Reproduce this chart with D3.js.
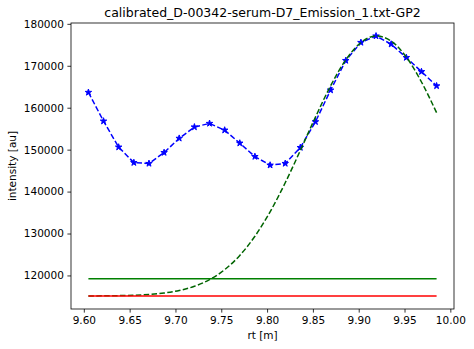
<!DOCTYPE html>
<html lang="en">
<head>
<meta charset="UTF-8">
<title>calibrated_D-00342-serum-D7_Emission_1.txt-GP2</title>
<script src="https://cdn.jsdelivr.net/npm/d3@7"></script>
<style>
  body { margin: 0; background: #fff; }
  svg { display: block; font-family: "DejaVu Sans", sans-serif; }
</style>
</head>
<body>
<svg id="chart" width="474" height="349"></svg>
<script>
// retention time of each measured point [m]
var rt = [9.6050, 9.6215, 9.6380, 9.6546, 9.6711, 9.6876, 9.7041, 9.7207,
          9.7372, 9.7537, 9.7702, 9.7867, 9.8033, 9.8198, 9.8363, 9.8528,
          9.8693, 9.8859, 9.9024, 9.9189, 9.9354, 9.9520, 9.9685, 9.9850];
// measured intensity (blue stars)
var intensity = [163650, 156800, 150600, 146900, 146700, 149300, 152700, 155400,
                 156250, 154650, 151550, 148350, 146300, 146700, 150500, 156650,
                 164200, 171250, 175550, 177100, 175150, 171950, 168600, 165200];
// fitted peak (green dashed)
var fit = [115120, 115140, 115190, 115280, 115470, 115810, 116410, 117410,
           119000, 121380, 124770, 129340, 135170, 142100, 149810, 157760,
           165210, 171410, 175530, 177100, 175900, 172060, 166130, 158800];
var baseline = 115100;   // red
var threshold = 119200;  // green solid
var xTicks = [9.60, 9.65, 9.70, 9.75, 9.80, 9.85, 9.90, 9.95, 10.00];
var yTicks = [120000, 130000, 140000, 150000, 160000, 170000, 180000];

var W = 474, H = 349;
var m = {left: 71, right: 20, top: 23, bottom: 40};

var svg = d3.select("#chart");

// matplotlib style 5% margins
var xlo = d3.min(rt), xhi = d3.max(rt);
var xpad = (xhi - xlo) * 0.05;
var allY = intensity.concat(fit, [baseline, threshold]);
var ylo = d3.min(allY), yhi = d3.max(allY);
var ypad = (yhi - ylo) * 0.05;

var x = d3.scaleLinear().domain([xlo - xpad, xhi + xpad]).range([m.left, W - m.right]);
var y = d3.scaleLinear().domain([ylo - ypad, yhi + ypad]).range([H - m.bottom, m.top]);

var g = svg.append("g");

var line = d3.line()
  .x(function(d) { return x(d[0]); })
  .y(function(d) { return y(d[1]); });
var smooth = d3.line()
  .x(function(d) { return x(d[0]); })
  .y(function(d) { return y(d[1]); })
  .curve(d3.curveMonotoneX);

// measured data
g.append("path")
  .datum(d3.zip(rt, intensity))
  .attr("d", line)
  .attr("fill", "none")
  .attr("stroke", "#0000ff")
  .attr("stroke-width", 1.5)
  .attr("stroke-dasharray", "5.5,2.4");

g.selectAll(".star")
  .data(d3.zip(rt, intensity))
  .enter()
  .append("path")
  .attr("class", "star")
  .attr("transform", function(d) { return "translate(" + x(d[0]) + "," + y(d[1]) + ")"; })
  .attr("d", d3.symbol().type(d3.symbolStar).size(13))
  .attr("fill", "#0000ff")
  .attr("stroke", "#0000ff")
  .attr("stroke-width", 1);

// fitted curve
g.append("path")
  .datum(d3.zip(rt, fit))
  .attr("d", smooth)
  .attr("fill", "none")
  .attr("stroke", "#006400")
  .attr("stroke-width", 1.5)
  .attr("stroke-dasharray", "5.5,2.4");

// horizontal levels
g.append("path")
  .datum([[xlo, threshold], [xhi, threshold]])
  .attr("d", line)
  .attr("stroke", "#008000")
  .attr("stroke-width", 1.5);

g.append("path")
  .datum([[xlo, baseline], [xhi, baseline]])
  .attr("d", line)
  .attr("stroke", "#ff0000")
  .attr("stroke-width", 1.5);

// axes
var xAxis = d3.axisBottom(x).tickValues(xTicks).tickFormat(d3.format(".2f")).tickSizeOuter(0).tickSize(3.6).tickPadding(3.5);
var yAxis = d3.axisLeft(y).tickValues(yTicks).tickFormat(d3.format("d")).tickSizeOuter(0).tickSize(3.6).tickPadding(3.5);

svg.append("g")
  .attr("transform", "translate(0," + (H - m.bottom) + ")")
  .call(xAxis);
svg.append("g")
  .attr("transform", "translate(" + m.left + ",0)")
  .call(yAxis);

svg.selectAll(".tick text").attr("font-size", 10.5).attr("fill", "#000").attr("font-family", "DejaVu Sans");
svg.selectAll(".tick line").attr("stroke", "#000").attr("stroke-width", 0.8);
svg.selectAll(".domain").remove();

// frame
svg.append("rect")
  .attr("x", m.left).attr("y", m.top)
  .attr("width", W - m.left - m.right)
  .attr("height", H - m.top - m.bottom)
  .attr("fill", "none")
  .attr("stroke", "#000")
  .attr("stroke-width", 0.8);

// labels
svg.append("text")
  .attr("x", (m.left + W - m.right) / 2)
  .attr("y", 17)
  .attr("text-anchor", "middle")
  .attr("font-size", 12.5)
  .text("calibrated_D-00342-serum-D7_Emission_1.txt-GP2");

svg.append("text")
  .attr("x", (m.left + W - m.right) / 2)
  .attr("y", 339)
  .attr("text-anchor", "middle")
  .attr("font-size", 10.5)
  .text("rt [m]");

svg.append("text")
  .attr("transform", "translate(16," + ((m.top + H - m.bottom) / 2) + ") rotate(-90)")
  .attr("text-anchor", "middle")
  .attr("font-size", 10.5)
  .text("intensity [au]");
</script>
</body>
</html>
